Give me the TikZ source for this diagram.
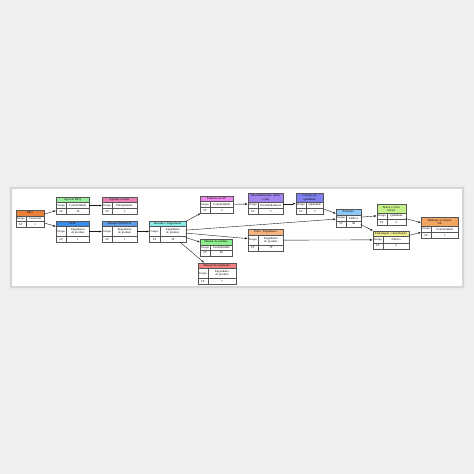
\documentclass[tikz,border=0pt]{standalone}
\usepackage{fontspec}
\setmainfont{Liberation Serif}
\usetikzlibrary{arrows.meta}
\definecolor{bgc}{HTML}{F0F0F0}
\definecolor{recline}{HTML}{555555}
\definecolor{cA}{HTML}{E8803A}
\definecolor{cB}{HTML}{98EC9C}
\definecolor{cC}{HTML}{E87FB4}
\definecolor{cD}{HTML}{3A8CE8}
\definecolor{cE}{HTML}{5E9EE4}
\definecolor{cF}{HTML}{8CEAE6}
\definecolor{cG}{HTML}{EE88EE}
\definecolor{cH}{HTML}{A284EE}
\definecolor{cI}{HTML}{7E80EE}
\definecolor{cJ}{HTML}{8CC8F6}
\definecolor{cK}{HTML}{C6F08A}
\definecolor{cL}{HTML}{F2F08E}
\definecolor{cM}{HTML}{F2A462}
\definecolor{cN}{HTML}{F4B482}
\definecolor{cO}{HTML}{8CEE8C}
\definecolor{cP}{HTML}{EE8080}
\tikzset{
 recbox/.style={draw=recline, line width=0.35pt, fill=white, inner sep=0pt, outer sep=0pt},
 rtxt/.style={inner sep=0pt, font=\fontsize{3}{3.4}\selectfont, align=center},
 edge/.style={draw=black!90, line width=0.4pt, -{Latex[length=2.6pt,width=2pt]}},
 rline/.style={draw=recline, line width=0.35pt},
}
\newcommand\recnode[9]{%
 \xdef\rx{#2}\xdef\ry{#3}\xdef\rw{#4}\xdef\rhh{#5}\xdef\rgh{#6}\xdef\rlh{#7}%
 \pgfmathsetmacro\rtot{#5+#6+#7}%
 \pgfmathsetmacro\rtw{#4-2}%
 \node[recbox, minimum width=#4pt, minimum height=\rtot pt, anchor=north west] (#1) at (#2,#3) {};
 \fill[#8] (#2,#3) rectangle (#2+#4,#3+#5);
 \draw[rline] (#2,#3) rectangle (#2+#4,#3+\rtot);
 \draw[rline] (#2,#3+#5) -- (#2+#4,#3+#5) (#2,#3+#5+#6) -- (#2+#4,#3+#5+#6) (#2+10.5,#3+#5) -- (#2+10.5,#3+\rtot);
 \node[rtxt, text width=\rtw pt] (#1-t) at (#2+#4/2,#3+#5/2) {#9};
}
\newcommand\recrows[3]{%
 \pgfmathsetmacro\rcw{\rw-11.5}%
 \node[rtxt] (#1-g) at (\rx+5.25,\ry+\rhh+\rgh/2) {Grupo};
 \node[rtxt, text width=\rcw pt] (#1-gv) at (\rx+10.5+\rw/2-5.25,\ry+\rhh+\rgh/2) {#2};
 \node[rtxt] (#1-l) at (\rx+5.25,\ry+\rhh+\rgh+\rlh/2) {LT};
 \node[rtxt] (#1-lv) at (\rx+10.5+\rw/2-5.25,\ry+\rhh+\rgh+\rlh/2) {#3};
}
\begin{document}
\begin{tikzpicture}[x=1pt,y=-1pt]
\useasboundingbox (0,0) rectangle (474,474);
\fill[bgc] (0,0) rectangle (474,474);
\fill[black!8] (8.5,185.5) rectangle (465.5,289.5);
\fill[black!16] (10,187) rectangle (464,288);
\fill[white] (12,189) rectangle (462,286);

\recnode{n1}{15.7}{210}{28.3}{5.7}{5.7}{5.7}{cA}{RFQ}
\recrows{n1}{Comercial}{1}
\recnode{n2}{56}{196.7}{33.3}{5.7}{6}{6}{cB}{Aprovar RFQ}
\recrows{n2}{Contabilidade}{10}
\recnode{n3}{102}{196.7}{34.7}{5.7}{6}{6}{cC}{Agendar revisão}
\recrows{n3}{Planejamento}{1}
\recnode{n4}{56}{220.7}{33.3}{5.7}{10}{5.9}{cD}{ECR}
\recrows{n4}{Engenharia de produto}{1}
\recnode{n5}{102}{220.7}{34.7}{5.7}{10}{5.9}{cE}{Planejar ECR/ECN}
\recrows{n5}{Engenharia de produto}{1}
\recnode{n6}{149.3}{220.7}{36.4}{5.7}{10}{5.9}{cF}{Desenho / Engenharia}
\recrows{n6}{Engenharia de produto}{10}
\recnode{n7}{200}{195.7}{33.3}{5.7}{6}{6}{cG}{Emissão de OP}
\recrows{n7}{Contabilidade}{5}
\recnode{n8}{247.7}{193.3}{35.6}{8.8}{6}{6}{cH}{Encaminhamento (linha\\/ rota)}
\recrows{n8}{Encaminhamento}{5}
\recnode{n9}{295.7}{193.3}{27.6}{8.8}{6}{6}{cI}{Controle de\\qualidade}
\recrows{n9}{Qualidade}{5}
\recnode{n10}{336}{209.3}{24.7}{5.7}{6}{6}{cJ}{Produção}
\recrows{n10}{Fábrica}{40}
\recnode{n11}{376.7}{204.3}{29}{8.8}{6}{6}{cK}{Testes e Ciclo\\inicial}
\recrows{n11}{Qualidade}{2}
\recnode{n12}{372.7}{230.7}{36.3}{5.7}{6.3}{6.3}{cL}{Embalagem e distribuição}
\recrows{n12}{Fábrica}{2}
\recnode{n13}{421}{217.3}{37.3}{8.8}{6}{6}{cM}{Remessa ao cliente\\NF}
\recrows{n13}{Contabilidade}{1}
\recnode{n14}{247.7}{229.3}{35.6}{5.7}{10}{6}{cN}{Proto. Engenharia}
\recrows{n14}{Engenharia de produto}{70}
\recnode{n15}{200}{239}{32}{5.7}{5.5}{5.5}{cO}{Manual de produto}
\recrows{n15}{Contabilidade}{40}
\recnode{n16}{197.7}{262.7}{38}{5.7}{10}{5.6}{cP}{Manual de instalação}
\recrows{n16}{Engenharia de produto}{7}

\draw[edge] (n1) -- (n2);
\draw[edge] (n1) -- (n4);
\draw[edge] (n2) -- (n3);
\draw[edge] (n4) -- (n5);
\draw[edge] (n5) -- (n6);
\draw[edge] (n6) -- (n7);
\draw[edge] (n6) -- (n10);
\draw[edge] (n6) -- (n14);
\draw[edge] (n6) -- (n15);
\draw[edge] (n6) -- (n16);
\draw[edge] (n7) -- (n8);
\draw[edge] (n8) -- (n9);
\draw[edge] (n9) -- (n10);
\draw[edge] (n10) -- (n11);
\draw[edge] (n10) -- (n12);
\draw[edge] (n14) -- (n12);
\draw[edge] (n11) -- (n13);
\draw[edge] (n12) -- (n13);
\end{tikzpicture}
\end{document}
